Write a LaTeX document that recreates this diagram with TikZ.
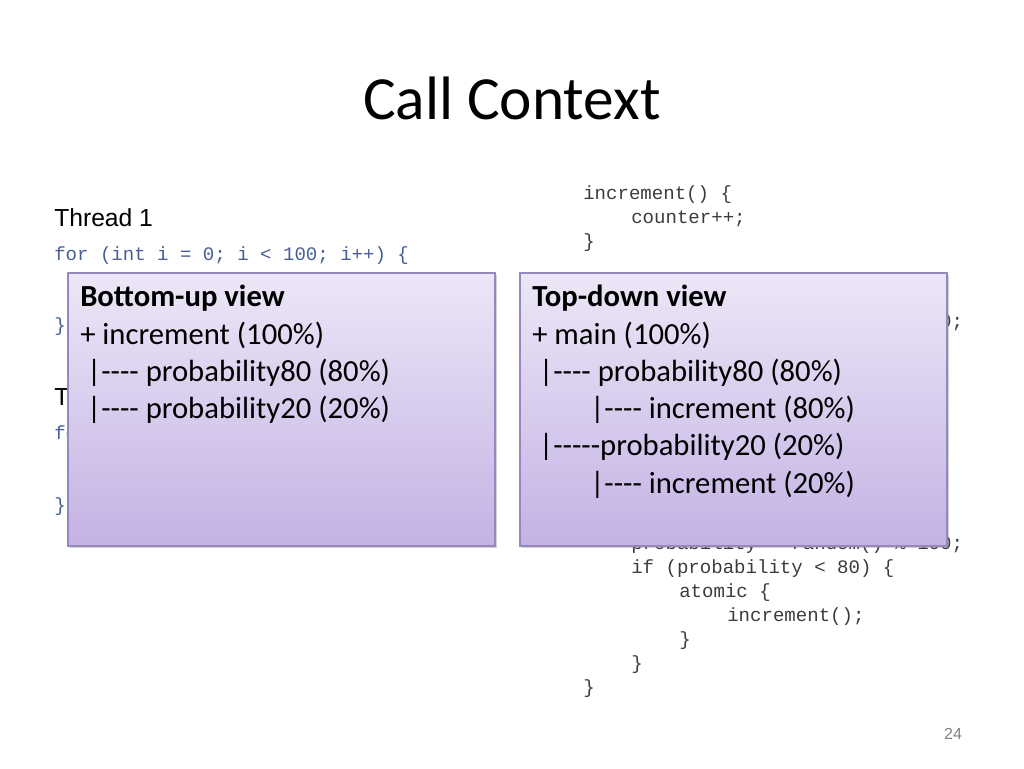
\documentclass[tikz,border=0pt]{standalone}
\usepackage{fontspec}
\setmainfont{Carlito}[Ligatures=TeXOff]
\newfontfamily\arialf{Liberation Sans}
\newfontfamily\courf{Liberation Mono}
\usetikzlibrary{shadows}
\definecolor{codeblue}{RGB}{70,95,150}
\definecolor{codegray}{RGB}{60,60,60}
\definecolor{boxtop}{RGB}{236,231,247}
\definecolor{boxbot}{RGB}{196,178,228}
\definecolor{boxline}{RGB}{150,135,190}
\tikzset{
 code/.style={anchor=west,inner sep=0,font=\courf\fontsize{14.3}{16}\selectfont},
 view/.style={draw=boxline,line width=0.8pt,top color=boxtop,bottom color=boxbot,drop shadow={opacity=0.35,shadow xshift=1.5pt,shadow yshift=-1.5pt}},
 vt/.style={anchor=west,inner sep=0,font=\fontsize{23}{25}\selectfont}
}
\begin{document}
\begin{tikzpicture}[x=0.75pt,y=-0.75pt]
\useasboundingbox (0,0) rectangle (1024,768);
\node[font=\fontsize{46}{48}\selectfont] (title) at (512,98) {Call Context};
\node[anchor=west,inner sep=0,font=\arialf\fontsize{18.5}{20}\selectfont] (t1) at (54,218) {Thread 1};
\node[anchor=west,inner sep=0,font=\arialf\fontsize{18.5}{20}\selectfont] (t2) at (54,397) {Thread 2};
\begin{scope}[every node/.style={code,text=codeblue}]
\node (l1) at (54,256) {for (int i = 0; i < 100; i++) \{};
\node (l2) at (54,327) {\}};
\node (l3) at (54,435) {for (int i = 0; i < 100; i++) \{};
\node (l4) at (54,507) {\}};
\end{scope}
\begin{scope}[every node/.style={code,text=codegray}]
\node (r1) at (583,195) {increment() \{};
\node (r2) at (631,219) {counter++;};
\node (r3) at (583,243) {\}};
\node (r4) at (631,323) {probability = random() \% 100;};
\node (r5) at (631,545) {probability = random() \% 100;};
\node (r6) at (631,569) {if (probability < 80) \{};
\node (r7) at (679,593) {atomic \{};
\node (r8) at (727,617) {increment();};
\node (r9) at (679,641) {\}};
\node (r10) at (631,665) {\}};
\node (r11) at (583,689) {\}};
\end{scope}
\draw[view] (68,273) rectangle (495,546);
\draw[view] (520,273) rectangle (947,546);
\node[vt,font=\bfseries\fontsize{23}{25}\selectfont] (b0) at (80,298) {Bottom-up view};
\node[vt] (b1) at (80,335) {+ increment (100\%)};
\node[vt] (b2) at (80,373) {\ |---- probability80 (80\%)};
\node[vt] (b3) at (80,410) {\ |---- probability20 (20\%)};
\node[vt,font=\bfseries\fontsize{23}{25}\selectfont] (d0) at (532,298) {Top-down view};
\node[vt] (d1) at (532,335) {+ main (100\%)};
\node[vt] (d2) at (532,373) {\ |---- probability80 (80\%)};
\node[vt] (d3) at (590,410) {|---- increment (80\%)};
\node[vt] (d4) at (532,447) {\ |-----probability20 (20\%)};
\node[vt] (d5) at (590,485) {|---- increment (20\%)};
\node[text=gray,font=\arialf\fontsize{12}{14}\selectfont] (pg) at (953,734) {24};
\end{tikzpicture}
\end{document}
